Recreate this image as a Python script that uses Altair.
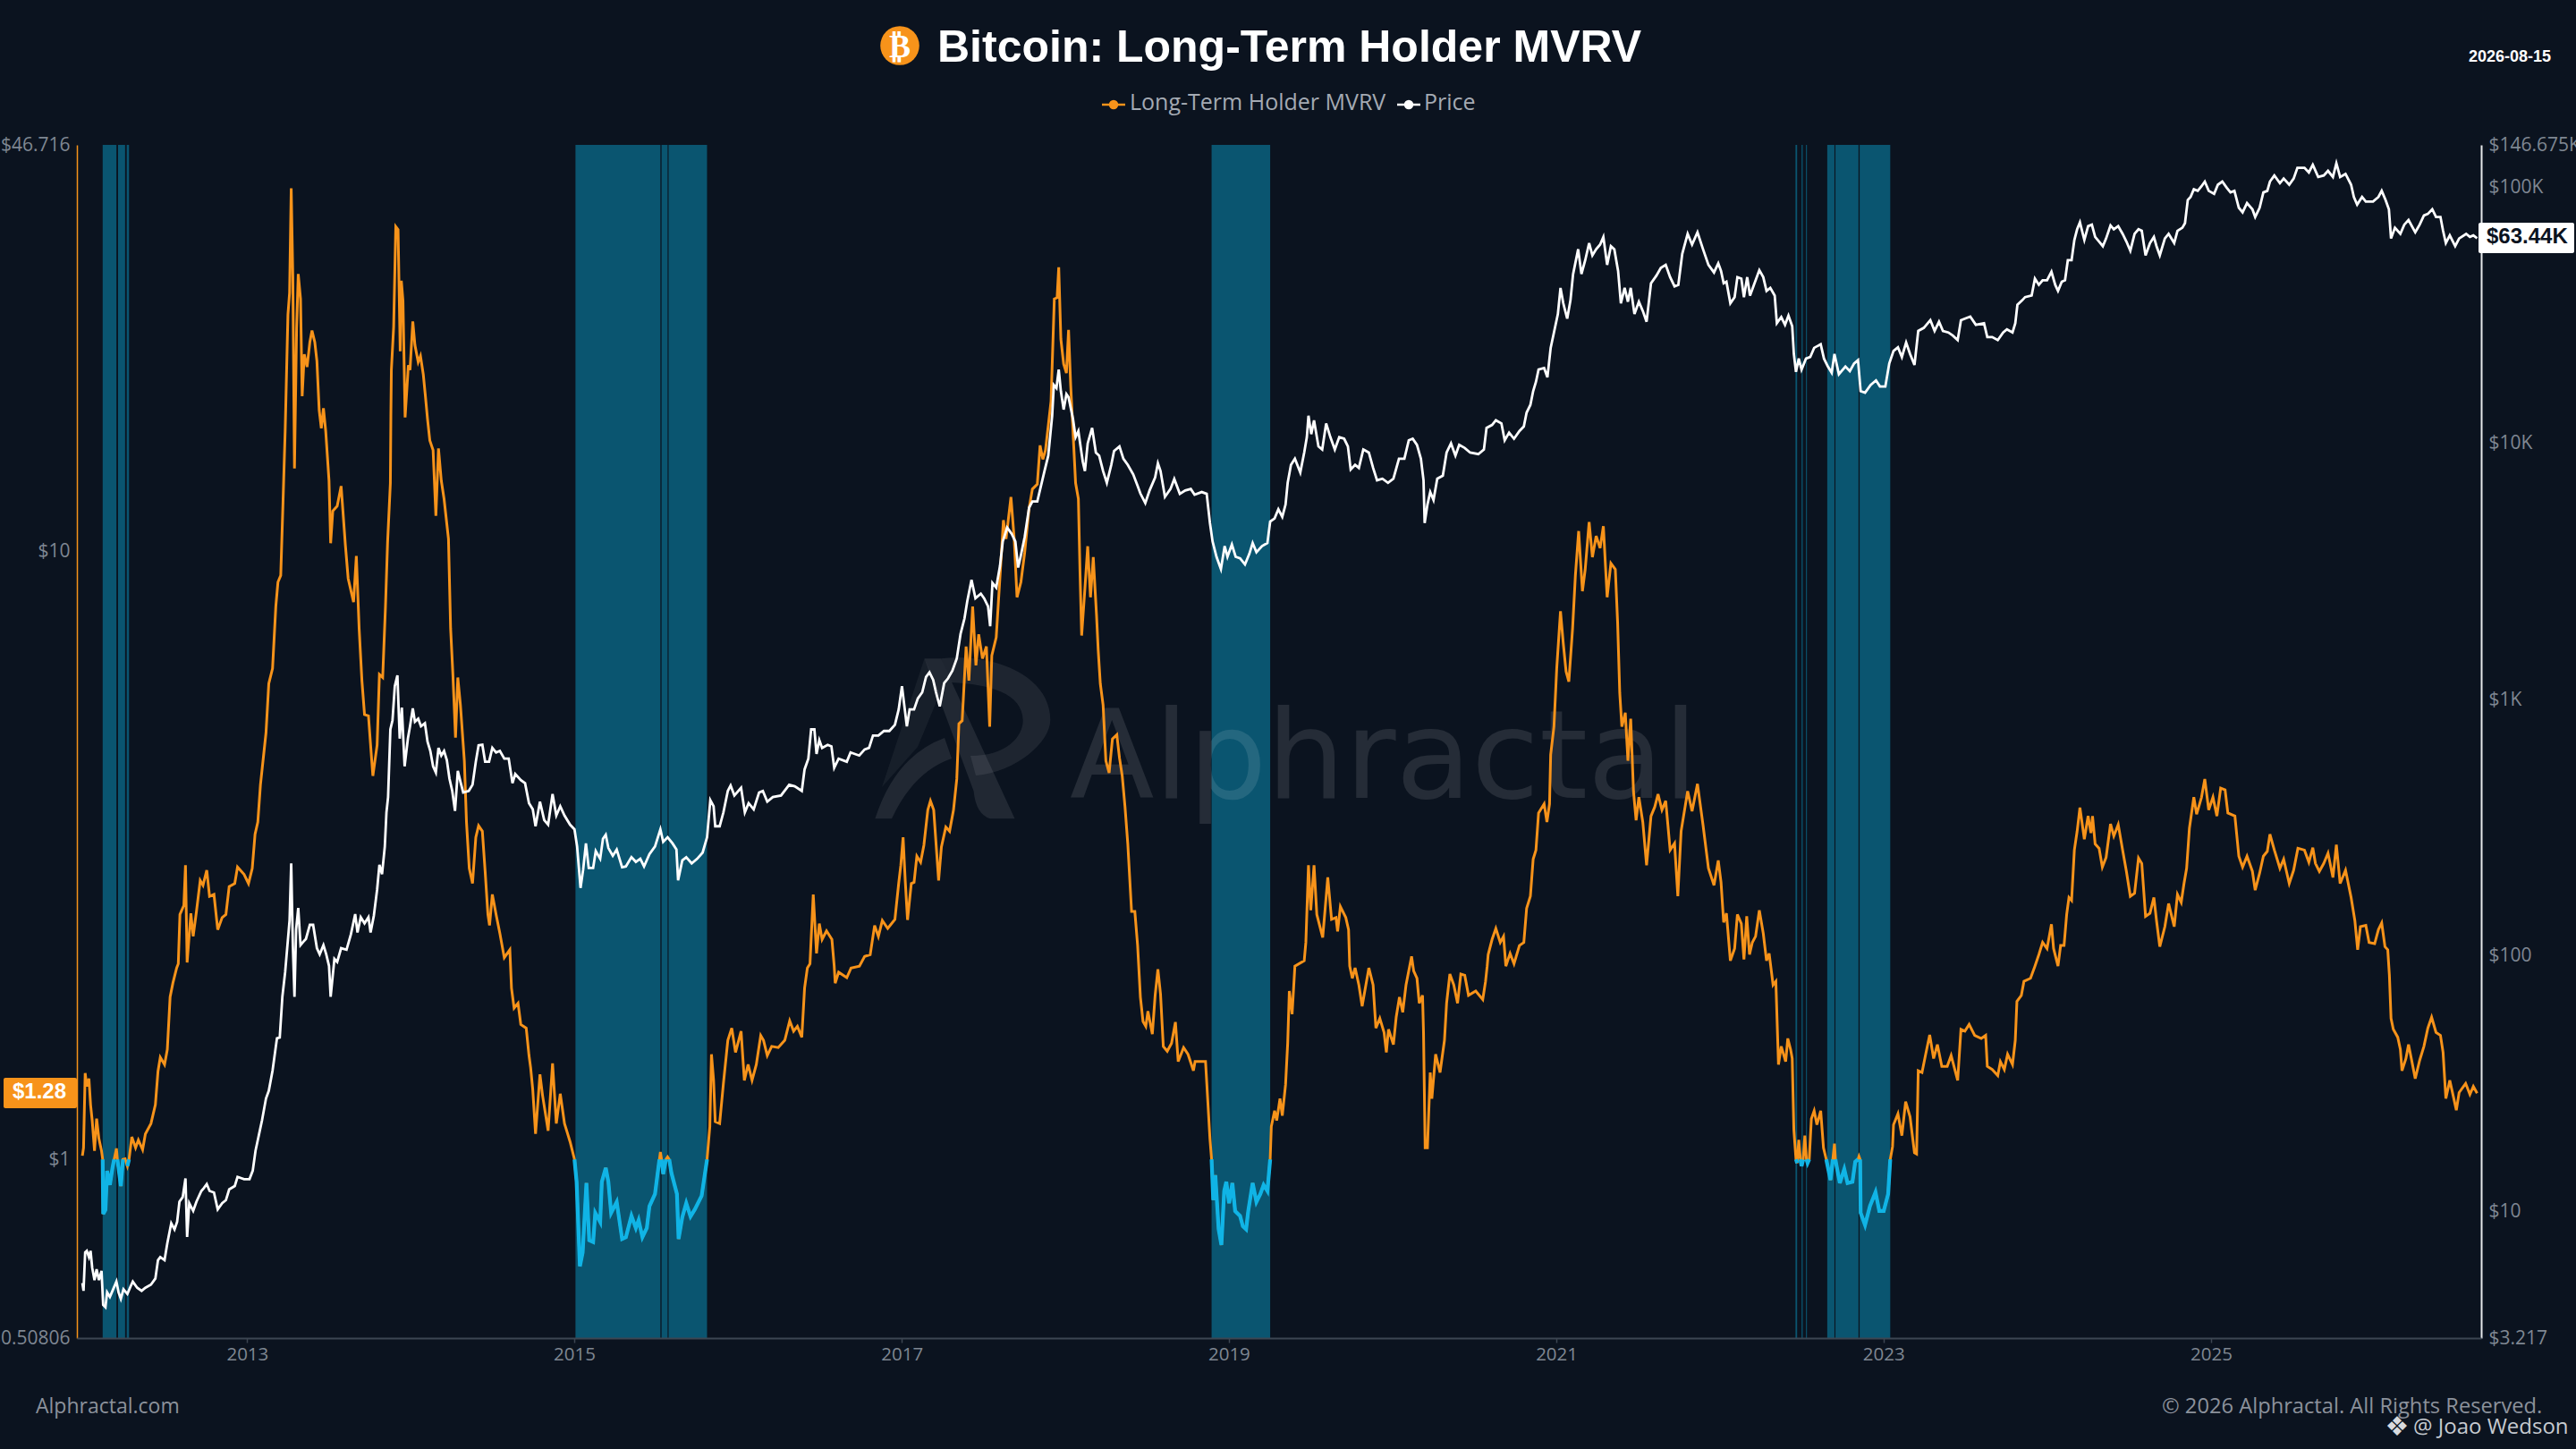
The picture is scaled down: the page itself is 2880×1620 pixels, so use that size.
import altair as alt
import pandas as pd
import numpy as np

# ---- values: (decimal year, log10 of the value on its log axis) ----
mvrv_readings = [
(2011.993,.006),(2012.000,.019),(2012.010,.142),(2012.020,.120),(2012.033,.133),(2012.043,.090),(2012.053,.064),(2012.067,.014),(2012.080,.067),(2012.094,.034),(2012.110,.014),(2012.117,0),
(2012.120,-.090),(2012.134,-.083),(2012.144,-.019),(2012.161,-.042),(2012.177,-.014),(2012.187,0),(2012.201,.018),(2012.207,0),(2012.214,-.014),(2012.228,-.044),(2012.241,0),(2012.254,.001),(2012.268,-.011),(2012.278,0),
(2012.295,.037),(2012.318,.019),(2012.335,.032),(2012.361,.016),(2012.378,.042),(2012.412,.059),(2012.439,.090),(2012.455,.145),(2012.469,.168),(2012.495,.156),(2012.512,.181),(2012.529,.267),(2012.546,.290),(2012.569,.315),
(2012.579,.322),(2012.589,.403),(2012.613,.418),(2012.623,.484),(2012.633,.324),(2012.656,.405),(2012.670,.367),(2012.690,.408),(2012.713,.459),(2012.730,.451),(2012.753,.476),(2012.770,.433),(2012.797,.436),(2012.820,.378),(2012.847,.398),(2012.870,.403),(2012.890,.449),(2012.924,.454),(2012.941,.481),(2012.981,.469),
(2013.008,.454),(2013.031,.479),(2013.048,.535),(2013.065,.555),(2013.081,.616),(2013.115,.702),(2013.132,.783),(2013.155,.808),(2013.175,.910),(2013.188,.950),(2013.205,.961),(2013.219,1.082),
(2013.232,1.198),(2013.249,1.390),(2013.259,1.426),(2013.269,1.598),(2013.279,1.451),(2013.289,1.137),(2013.302,1.368),(2013.312,1.457),(2013.326,1.416),(2013.336,1.256),(2013.349,1.325),(2013.366,1.304),(2013.383,1.345),(2013.396,1.364),(2013.413,1.345),(2013.426,1.314),(2013.440,1.233),(2013.453,1.203),(2013.466,1.236),(2013.480,1.198),(2013.500,1.117),
(2013.510,1.014),(2013.523,1.067),(2013.550,1.075),(2013.574,1.108),(2013.600,1.011),(2013.617,.956),(2013.650,.917),(2013.667,.993),(2013.684,.874),(2013.701,.788),(2013.717,.732),(2013.741,.730),(2013.768,.631),(2013.794,.682),(2013.808,.798),(2013.828,.793),(2013.845,.910),(2013.858,1.016),(2013.875,1.113),
(2013.878,1.223),(2013.881,1.299),(2013.895,1.370),(2013.908,1.535),(2013.922,1.530),(2013.935,1.330),(2013.942,1.446),(2013.952,1.413),(2013.965,1.221),(2013.985,1.307),(2013.995,1.299),(2014.012,1.379),(2014.025,1.340),(2014.045,1.312),(2014.059,1.322),(2014.076,1.292),(2014.089,1.256),(2014.102,1.218),(2014.116,1.183),(2014.136,1.167),(2014.153,1.059),(2014.169,1.170),(2014.186,1.117),
(2014.203,1.087),(2014.230,1.021),(2014.243,.874),(2014.257,.798),(2014.273,.694),(2014.287,.793),(2014.303,.748),(2014.327,.656),(2014.340,.555),(2014.357,.479),(2014.377,.454),(2014.397,.530),(2014.414,.549),(2014.437,.540),(2014.454,.474),(2014.471,.403),(2014.481,.385),(2014.498,.436),(2014.521,.403),(2014.544,.372),(2014.571,.332),(2014.605,.345),
(2014.615,.282),(2014.631,.249),(2014.655,.257),(2014.672,.222),(2014.705,.216),(2014.722,.171),(2014.732,.151),(2014.745,.115),(2014.762,.042),(2014.789,.140),(2014.805,.105),(2014.839,.047),(2014.866,.158),(2014.889,.059),(2014.913,.108),(2014.939,.059),(2014.973,.029),(2015.000,0),
(2015.013,-.037),(2015.033,-.176),(2015.050,-.153),(2015.073,-.039),(2015.090,-.133),(2015.114,-.136),(2015.127,-.088),(2015.157,-.103),(2015.167,-.037),(2015.191,-.014),(2015.207,-.037),(2015.224,-.088),(2015.258,-.070),(2015.291,-.131),(2015.314,-.128),(2015.348,-.093),(2015.375,-.113),(2015.392,-.100),(2015.415,-.128),(2015.442,-.113),(2015.458,-.077),(2015.492,-.057),(2015.519,0),(2015.525,.012),(2015.532,0),(2015.542,-.024),(2015.559,0),(2015.569,.004),(2015.579,0),(2015.592,-.022),(2015.626,-.057),(2015.636,-.131),(2015.659,-.095),(2015.683,-.072),(2015.709,-.094),(2015.736,-.082),(2015.777,-.060),(2015.810,0),
(2015.827,.054),(2015.837,.173),(2015.850,.130),(2015.860,.062),(2015.887,.059),(2015.910,.125),(2015.937,.196),(2015.961,.216),(2015.984,.176),(2016.018,.211),(2016.038,.130),(2016.061,.156),(2016.085,.130),(2016.111,.156),(2016.138,.204),(2016.155,.196),(2016.178,.171),(2016.205,.186),(2016.245,.184),(2016.285,.196),(2016.315,.228),(2016.339,.211),(2016.362,.219),(2016.389,.201),(2016.406,.282),(2016.423,.315),
(2016.439,.322),(2016.459,.436),(2016.479,.339),(2016.496,.388),(2016.513,.362),(2016.540,.376),(2016.573,.362),(2016.587,.318),(2016.593,.290),(2016.614,.308),(2016.664,.299),(2016.690,.315),(2016.741,.318),
(2016.773,.334),(2016.807,.337),(2016.834,.385),(2016.857,.367),(2016.881,.393),(2016.914,.380),(2016.958,.395),(2016.981,.454),(2016.994,.484),(2017.008,.530),(2017.021,.459),(2017.035,.394),(2017.058,.454),(2017.075,.456),(2017.092,.499),(2017.115,.489),(2017.135,.517),(2017.159,.575),(2017.175,.590),(2017.195,.575),(2017.225,.459),(2017.242,.514),(2017.269,.547),(2017.292,.540),(2017.316,.575),(2017.336,.626),(2017.349,.717),(2017.369,.722),(2017.393,.844),(2017.410,.788),(2017.433,.910),(2017.453,.813),(2017.470,.864),(2017.493,.824),(2017.517,.844),(2017.537,.712),(2017.550,.829),(2017.577,.859),(2017.604,.976),(2017.621,1.052),(2017.637,1.021),(2017.667,1.090),(2017.687,1.021),(2017.704,.925),(2017.728,.950),(2017.751,.999),(2017.778,1.072),(2017.798,1.103),
(2017.828,1.111),(2017.845,1.175),(2017.862,1.152),(2017.878,1.167),(2017.912,1.248),(2017.932,1.416),(2017.949,1.418),(2017.959,1.468),(2017.972,1.350),(2017.989,1.309),(2018.006,1.294),(2018.019,1.365),(2018.032,1.274),(2018.062,1.113),
(2018.079,1.087),(2018.089,.966),(2018.099,.862),(2018.119,.940),(2018.136,1.009),(2018.153,.925),(2018.170,.991),(2018.190,.895),(2018.200,.839),(2018.213,.783),(2018.230,.748),(2018.247,.656),(2018.267,.636),(2018.287,.692),(2018.314,.699),(2018.330,.661),(2018.347,.631),(2018.364,.580),(2018.381,.519),(2018.404,.408),(2018.424,.408),(2018.441,.352),
(2018.458,.267),(2018.474,.227),(2018.491,.219),(2018.504,.244),(2018.531,.206),(2018.548,.270),(2018.565,.313),(2018.581,.272),(2018.598,.186),(2018.622,.178),(2018.648,.191),(2018.672,.226),(2018.689,.161),(2018.722,.184),(2018.749,.173),(2018.782,.146),(2018.792,.161),(2018.833,.161),(2018.856,.161),(2018.869,.100),(2018.883,.034),(2018.893,0),
(2018.903,-.067),(2018.916,-.026),(2018.936,-.115),(2018.953,-.141),(2018.970,-.052),(2018.983,-.037),(2019.000,-.072),(2019.020,-.039),(2019.037,-.085),(2019.067,-.093),(2019.084,-.110),(2019.104,-.115),(2019.117,-.085),(2019.144,-.039),(2019.167,-.070),(2019.191,-.057),(2019.211,-.042),(2019.234,-.052),(2019.251,0),
(2019.258,.054),(2019.278,.080),(2019.291,.064),(2019.311,.100),(2019.325,.072),(2019.345,.123),(2019.358,.191),(2019.368,.277),(2019.385,.239),(2019.402,.318),
(2019.459,.327),(2019.469,.357),(2019.485,.484),(2019.499,.410),(2019.519,.484),(2019.536,.403),(2019.572,.365),(2019.603,.464),(2019.626,.395),(2019.653,.398),(2019.663,.375),(2019.680,.416),(2019.713,.398),(2019.730,.378),(2019.737,.318),
(2019.753,.298),(2019.770,.315),(2019.793,.287),(2019.813,.252),(2019.854,.315),(2019.880,.287),(2019.897,.216),(2019.921,.232),(2019.947,.209),(2019.961,.176),(2019.974,.214),(2020.004,.189),(2020.021,.234),(2020.041,.267),(2020.061,.242),(2020.081,.287),(2020.115,.334),(2020.128,.310),(2020.148,.298),(2020.162,.257),(2020.182,.270),(2020.188,.209),(2020.198,.019),(2020.212,.019),(2020.229,.143),(2020.239,.100),(2020.262,.173),(2020.289,.143),(2020.316,.196),(2020.329,.257),(2020.349,.305),(2020.373,.287),(2020.396,.257),(2020.416,.305),(2020.440,.303),(2020.463,.270),(2020.507,.277),(2020.550,.263),(2020.567,.293),(2020.577,.318),
(2020.583,.337),(2020.607,.362),(2020.630,.380),(2020.657,.357),(2020.677,.367),(2020.691,.318),(2020.717,.339),(2020.741,.322),(2020.774,.352),(2020.801,.357),(2020.818,.413),(2020.841,.433),(2020.858,.494),(2020.875,.509),(2020.891,.570),(2020.925,.585),(2020.942,.555),(2020.958,.585),(2020.965,.666),(2020.985,.712),(2021.002,.808),(2021.025,.902),(2021.042,.849),(2021.059,.803),(2021.076,.786),(2021.099,.874),(2021.116,.961),(2021.136,1.034),(2021.159,.935),(2021.176,.971),(2021.200,1.049),(2021.220,.991),(2021.243,1.026),(2021.267,1.006),(2021.287,1.042),(2021.310,.925),(2021.333,.981),(2021.360,.971),(2021.374,.884),(2021.387,.768),(2021.400,.712),(2021.421,.735),(2021.437,.656),(2021.454,.725),(2021.471,.606),(2021.487,.558),(2021.504,.596),(2021.528,.555),(2021.551,.484),(2021.578,.565),(2021.601,.580),(2021.621,.601),(2021.645,.575),(2021.668,.590),(2021.695,.509),(2021.722,.520),(2021.742,.433),(2021.762,.540),(2021.802,.606),(2021.829,.573),(2021.862,.618),(2021.896,.550),(2021.929,.479),(2021.963,.451),
(2021.989,.492),(2022.006,.456),(2022.022,.390),(2022.039,.405),(2022.063,.327),(2022.089,.347),(2022.106,.403),(2022.130,.388),(2022.146,.329),(2022.163,.400),(2022.180,.337),(2022.197,.357),(2022.217,.367),(2022.240,.410),(2022.264,.372),(2022.284,.327),(2022.300,.339),
(2022.324,.287),(2022.341,.293),(2022.357,.156),(2022.374,.186),(2022.401,.161),(2022.414,.199),(2022.431,.181),(2022.441,.166),(2022.451,.049),(2022.464,0),(2022.471,-.006),(2022.481,.032),(2022.491,0),(2022.498,-.011),(2022.508,0),(2022.518,.039),(2022.528,0),(2022.535,-.006),(2022.545,0),(2022.558,.067),(2022.575,.080),(2022.592,.057),(2022.615,.080),(2022.632,.019),(2022.649,0),(2022.675,-.034),(2022.689,0),(2022.699,.026),(2022.705,0),(2022.712,-.011),(2022.732,-.039),(2022.759,-.016),(2022.779,-.039),(2022.809,-.037),(2022.826,-.004),(2022.843,0),(2022.849,.005),(2022.856,0),(2022.859,-.088),(2022.886,-.108),(2022.916,-.077),(2022.950,-.054),(2022.973,-.085),(2023.000,-.085),(2023.027,-.057),(2023.040,0),
(2023.054,.021),(2023.060,.057),(2023.087,.075),(2023.111,.039),(2023.134,.095),(2023.161,.070),(2023.188,.011),(2023.201,.009),(2023.211,.146),(2023.234,.143),(2023.255,.171),(2023.281,.205),(2023.305,.166),(2023.328,.189),(2023.355,.153),(2023.388,.153),(2023.412,.171),(2023.452,.130),(2023.472,.214),(2023.496,.211),(2023.522,.222),(2023.556,.204),(2023.596,.199),(2023.623,.204),(2023.633,.153),(2023.663,.148),(2023.697,.138),(2023.713,.161),(2023.737,.148),(2023.757,.173),(2023.787,.156),(2023.804,.196),(2023.814,.260),(2023.841,.270),(2023.857,.293),(2023.897,.298),(2023.924,.318),
(2023.948,.337),(2023.971,.357),(2023.998,.347),(2024.025,.387),(2024.038,.347),(2024.065,.318),(2024.081,.352),(2024.102,.352),(2024.118,.403),(2024.132,.431),(2024.148,.426),(2024.165,.509),(2024.182,.540),(2024.199,.579),(2024.226,.527),(2024.249,.565),(2024.266,.537),(2024.276,.565),(2024.292,.519),(2024.316,.512),(2024.336,.481),(2024.359,.497),(2024.386,.552),(2024.406,.532),(2024.433,.551),(2024.460,.509),(2024.483,.474),(2024.507,.433),(2024.533,.438),(2024.557,.496),(2024.577,.487),(2024.600,.400),(2024.627,.405),(2024.651,.431),(2024.667,.393),(2024.687,.350),(2024.718,.383),(2024.741,.421),(2024.775,.383),(2024.795,.436),(2024.818,.423),(2024.835,.454),(2024.851,.479),(2024.868,.545),(2024.895,.596),(2024.912,.568),(2024.942,.596),(2024.962,.626),(2024.986,.575),(2025.012,.596),(2025.036,.565),(2025.059,.611),(2025.086,.608),(2025.103,.570),(2025.146,.565),(2025.170,.499),(2025.193,.481),(2025.220,.499),(2025.253,.474),(2025.270,.443),(2025.297,.471),(2025.320,.499),(2025.344,.507),(2025.360,.535),(2025.387,.509),(2025.421,.479),(2025.444,.494),(2025.478,.454),(2025.505,.476),(2025.531,.512),(2025.571,.509),(2025.598,.489),(2025.622,.513),(2025.638,.487),(2025.662,.474),(2025.689,.487),(2025.715,.504),(2025.745,.464),(2025.766,.518),(2025.789,.454),(2025.822,.476),(2025.856,.431),(2025.879,.393),(2025.896,.345),(2025.913,.383),(2025.946,.385),(2025.966,.357),(2026.000,.355),(2026.023,.378),(2026.043,.389),(2026.063,.350),(2026.080,.345),
(2026.090,.303),(2026.100,.232),(2026.114,.214),(2026.141,.201),(2026.157,.181),(2026.167,.146),(2026.191,.166),(2026.207,.189),(2026.224,.166),(2026.248,.133),(2026.275,.163),(2026.301,.186),(2026.325,.216),(2026.348,.234),(2026.375,.209),(2026.402,.204),(2026.418,.176),(2026.435,.100),(2026.459,.130),(2026.482,.102),(2026.499,.081),(2026.516,.110),(2026.556,.125),(2026.582,.107),(2026.603,.120),(2026.626,.109),
]

price_readings = [
(2011.993,.722),(2012.000,.692),(2012.010,.842),(2012.020,.848),(2012.033,.824),(2012.043,.848),(2012.053,.782),(2012.067,.734),(2012.080,.776),(2012.094,.734),(2012.110,.770),(2012.120,.637),(2012.134,.628),(2012.144,.686),(2012.161,.668),(2012.177,.692),(2012.201,.728),(2012.214,.686),(2012.228,.661),(2012.244,.698),(2012.268,.680),(2012.288,.710),(2012.301,.728),(2012.328,.704),(2012.355,.692),(2012.378,.704),(2012.412,.716),(2012.439,.740),(2012.455,.812),(2012.469,.824),(2012.495,.812),(2012.512,.878),(2012.536,.956),(2012.556,.932),(2012.572,.962),(2012.586,1.040),(2012.606,1.058),(2012.623,1.131),(2012.633,.902),(2012.646,1.034),(2012.670,1.004),(2012.690,1.040),(2012.720,1.082),(2012.736,1.094),(2012.753,1.109),(2012.770,1.082),(2012.797,1.076),(2012.820,1.010),(2012.847,1.034),(2012.870,1.046),(2012.890,1.088),(2012.924,1.101),(2012.941,1.137),(2012.981,1.128),
(2013.014,1.128),(2013.034,1.161),(2013.051,1.239),(2013.071,1.299),(2013.091,1.359),(2013.115,1.443),(2013.132,1.473),(2013.155,1.552),(2013.182,1.678),(2013.199,1.681),(2013.215,1.840),(2013.232,1.936),
(2013.259,2.139),(2013.269,2.361),(2013.279,2.042),(2013.289,1.840),(2013.299,2.103),(2013.312,2.187),(2013.326,2.042),(2013.342,2.054),(2013.359,2.066),(2013.383,2.121),(2013.403,2.121),(2013.426,2.030),(2013.443,2.006),(2013.466,2.042),(2013.483,2.006),(2013.500,1.961),(2013.510,1.840),(2013.533,1.988),(2013.550,1.976),(2013.574,2.030),(2013.607,2.024),(2013.634,2.085),(2013.660,2.163),(2013.674,2.091),(2013.694,2.151),(2013.717,2.127),(2013.741,2.151),(2013.754,2.091),(2013.774,2.157),(2013.794,2.259),(2013.808,2.355),(2013.824,2.319),(2013.841,2.427),(2013.851,2.560),(2013.861,2.620),(2013.875,2.884),(2013.888,2.920),(2013.902,3.053),(2013.918,3.095),(2013.932,2.848),(2013.945,2.969),(2013.962,2.740),(2013.982,2.848),(2013.995,2.896),
(2014.012,2.966),(2014.025,2.914),(2014.045,2.926),(2014.062,2.896),(2014.086,2.908),(2014.102,2.836),(2014.119,2.800),(2014.136,2.740),(2014.153,2.716),(2014.169,2.812),(2014.186,2.782),(2014.203,2.800),(2014.220,2.764),(2014.236,2.692),(2014.253,2.644),(2014.270,2.566),(2014.287,2.722),(2014.303,2.680),(2014.320,2.638),(2014.354,2.644),(2014.377,2.668),(2014.397,2.758),(2014.414,2.822),(2014.437,2.824),(2014.454,2.758),(2014.478,2.758),(2014.498,2.812),(2014.521,2.794),(2014.544,2.800),(2014.571,2.770),(2014.598,2.770),(2014.621,2.674),(2014.638,2.710),(2014.672,2.686),(2014.698,2.674),(2014.722,2.596),(2014.745,2.572),(2014.762,2.506),(2014.789,2.602),(2014.815,2.530),(2014.839,2.512),(2014.866,2.632),(2014.889,2.548),(2014.913,2.584),(2014.939,2.548),(2014.973,2.512),
(2015.000,2.494),(2015.016,2.427),(2015.037,2.265),(2015.053,2.337),(2015.070,2.439),(2015.087,2.343),(2015.114,2.343),(2015.130,2.409),(2015.157,2.379),(2015.174,2.457),(2015.191,2.473),(2015.207,2.421),(2015.234,2.391),(2015.258,2.415),(2015.291,2.346),(2015.314,2.349),(2015.348,2.385),(2015.375,2.367),(2015.402,2.379),(2015.425,2.349),(2015.458,2.397),(2015.492,2.427),(2015.525,2.494),(2015.542,2.445),(2015.569,2.463),(2015.599,2.439),(2015.623,2.415),(2015.633,2.295),(2015.659,2.373),(2015.683,2.385),(2015.716,2.361),(2015.750,2.379),(2015.783,2.403),(2015.810,2.463),(2015.830,2.608),(2015.850,2.584),(2015.860,2.506),(2015.887,2.506),(2015.910,2.560),(2015.937,2.644),(2015.954,2.665),(2015.977,2.626),
(2016.018,2.656),(2016.041,2.560),(2016.064,2.596),(2016.095,2.572),(2016.128,2.638),(2016.151,2.644),(2016.178,2.602),(2016.212,2.620),(2016.262,2.626),(2016.312,2.668),(2016.346,2.662),(2016.389,2.644),(2016.406,2.728),(2016.429,2.770),(2016.446,2.884),(2016.466,2.884),(2016.479,2.788),(2016.496,2.842),(2016.513,2.812),(2016.547,2.824),(2016.570,2.818),(2016.587,2.734),(2016.614,2.770),(2016.664,2.758),(2016.687,2.794),(2016.740,2.782),(2016.773,2.806),(2016.800,2.812),(2016.824,2.860),(2016.857,2.860),(2016.891,2.878),(2016.924,2.878),(2016.958,2.902),(2016.981,2.962),
(2017.001,3.053),(2017.031,2.896),(2017.048,2.962),(2017.075,2.962),(2017.098,3.005),(2017.125,3.029),(2017.148,3.089),(2017.169,3.107),(2017.192,3.077),(2017.209,3.029),(2017.232,2.974),(2017.259,3.065),(2017.282,3.083),(2017.309,3.113),(2017.336,3.161),(2017.359,3.257),(2017.383,3.317),(2017.400,3.384),(2017.426,3.468),(2017.450,3.396),(2017.483,3.414),(2017.503,3.396),(2017.527,3.365),(2017.540,3.287),(2017.554,3.456),(2017.577,3.438),(2017.600,3.522),(2017.617,3.618),(2017.644,3.672),(2017.671,3.648),(2017.694,3.618),(2017.711,3.516),(2017.728,3.564),(2017.751,3.636),(2017.778,3.750),(2017.798,3.774),(2017.828,3.774),(2017.872,3.893),(2017.895,3.953),(2017.919,4.109),(2017.929,4.229),(2017.945,4.217),(2017.959,4.289),(2017.972,4.205),(2017.989,4.133),
(2018.006,4.193),(2018.019,4.181),(2018.046,4.097),(2018.062,4.025),(2018.079,4.049),(2018.106,3.929),(2018.119,3.893),(2018.136,4.001),(2018.163,4.061),(2018.186,3.965),(2018.206,3.953),(2018.230,3.893),(2018.253,3.847),(2018.280,3.917),(2018.297,3.971),(2018.330,3.989),(2018.354,3.941),(2018.381,3.917),(2018.414,3.880),(2018.441,3.835),(2018.458,3.805),(2018.488,3.768),(2018.514,3.817),(2018.548,3.868),(2018.565,3.923),(2018.581,3.893),(2018.608,3.792),(2018.642,3.823),(2018.665,3.862),(2018.699,3.804),(2018.732,3.817),(2018.766,3.823),(2018.789,3.801),(2018.833,3.811),(2018.863,3.804),(2018.883,3.690),(2018.899,3.618),(2018.923,3.558),(2018.950,3.510),(2018.973,3.600),(2018.990,3.558),
(2019.017,3.606),(2019.040,3.558),(2019.067,3.552),(2019.097,3.528),(2019.124,3.570),(2019.144,3.612),(2019.167,3.576),(2019.201,3.600),(2019.234,3.612),(2019.251,3.696),(2019.278,3.708),(2019.301,3.744),(2019.325,3.714),(2019.345,3.762),(2019.358,3.847),(2019.378,3.917),(2019.402,3.941),(2019.435,3.887),(2019.459,3.965),(2019.475,4.025),(2019.485,4.109),(2019.502,4.037),(2019.519,4.091),(2019.546,3.989),(2019.569,3.977),(2019.593,4.079),(2019.619,4.025),(2019.646,3.977),(2019.673,4.025),(2019.703,4.019),(2019.726,3.989),(2019.743,3.899),(2019.770,3.917),(2019.793,3.905),(2019.820,3.977),(2019.854,3.965),(2019.880,3.905),(2019.904,3.857),(2019.937,3.863),(2019.971,3.847),
(2020.004,3.863),(2020.038,3.941),(2020.071,3.941),(2020.098,4.013),(2020.122,4.019),(2020.148,3.995),(2020.172,3.941),(2020.188,3.857),(2020.195,3.690),(2020.212,3.762),(2020.229,3.811),(2020.249,3.780),(2020.272,3.863),(2020.306,3.875),(2020.329,3.965),(2020.356,4.001),(2020.383,3.953),(2020.406,3.995),(2020.440,3.983),(2020.473,3.965),(2020.523,3.959),(2020.557,3.977),(2020.573,4.061),(2020.607,4.073),(2020.630,4.091),(2020.664,4.079),(2020.684,4.013),(2020.711,4.043),(2020.741,4.019),(2020.774,4.049),(2020.801,4.067),(2020.818,4.121),(2020.841,4.151),(2020.858,4.205),(2020.875,4.241),(2020.891,4.289),(2020.925,4.295),(2020.945,4.259),(2020.965,4.374),(2020.985,4.434),
(2021.009,4.506),(2021.025,4.608),(2021.042,4.548),(2021.066,4.488),(2021.086,4.560),(2021.102,4.662),(2021.133,4.759),(2021.153,4.662),(2021.176,4.716),(2021.200,4.783),(2021.220,4.735),(2021.243,4.759),(2021.267,4.777),(2021.287,4.807),(2021.310,4.698),(2021.333,4.771),(2021.354,4.759),(2021.377,4.674),(2021.394,4.548),(2021.417,4.608),(2021.437,4.554),(2021.454,4.608),(2021.477,4.506),(2021.504,4.554),(2021.528,4.518),(2021.551,4.476),(2021.578,4.626),(2021.611,4.656),(2021.638,4.686),(2021.668,4.698),(2021.695,4.650),(2021.722,4.614),(2021.745,4.620),(2021.769,4.741),(2021.802,4.819),(2021.829,4.777),(2021.862,4.825),(2021.896,4.759),(2021.929,4.698),(2021.963,4.668),(2021.989,4.704),
(2022.006,4.674),(2022.022,4.626),(2022.039,4.632),(2022.063,4.548),(2022.089,4.572),(2022.106,4.650),(2022.130,4.644),(2022.146,4.572),(2022.166,4.650),(2022.183,4.578),(2022.207,4.620),(2022.240,4.677),(2022.264,4.650),(2022.284,4.596),(2022.307,4.608),(2022.334,4.578),(2022.347,4.470),(2022.374,4.494),(2022.397,4.464),(2022.418,4.500),(2022.441,4.458),(2022.451,4.350),(2022.464,4.280),(2022.481,4.332),(2022.498,4.289),(2022.525,4.332),(2022.551,4.338),(2022.575,4.374),(2022.615,4.388),(2022.635,4.332),(2022.659,4.301),(2022.682,4.277),(2022.699,4.350),(2022.726,4.271),(2022.766,4.301),(2022.793,4.283),(2022.819,4.313),(2022.843,4.326),(2022.859,4.205),(2022.886,4.199),(2022.920,4.229),(2022.953,4.247),(2022.977,4.223),
(2023.010,4.223),(2023.034,4.313),(2023.060,4.362),(2023.087,4.376),(2023.111,4.338),(2023.137,4.395),(2023.161,4.350),(2023.188,4.307),(2023.211,4.440),(2023.245,4.452),(2023.285,4.482),(2023.311,4.440),(2023.338,4.476),(2023.362,4.440),(2023.395,4.434),(2023.422,4.422),(2023.452,4.404),(2023.472,4.482),(2023.496,4.488),(2023.529,4.496),(2023.563,4.464),(2023.613,4.470),(2023.633,4.416),(2023.663,4.416),(2023.697,4.404),(2023.730,4.434),(2023.753,4.446),(2023.787,4.434),(2023.804,4.470),(2023.817,4.542),(2023.847,4.560),(2023.864,4.572),(2023.904,4.578),(2023.924,4.644),(2023.948,4.620),(2023.971,4.638),(2023.998,4.638),
(2024.025,4.671),(2024.048,4.620),(2024.065,4.596),(2024.088,4.632),(2024.108,4.638),(2024.125,4.716),(2024.148,4.716),(2024.165,4.795),(2024.182,4.837),(2024.199,4.864),(2024.226,4.795),(2024.249,4.849),(2024.272,4.855),(2024.292,4.807),(2024.316,4.789),(2024.339,4.771),(2024.359,4.801),(2024.386,4.852),(2024.406,4.837),(2024.433,4.849),(2024.460,4.819),(2024.483,4.789),(2024.507,4.753),(2024.533,4.819),(2024.557,4.837),(2024.577,4.831),(2024.600,4.735),(2024.627,4.783),(2024.651,4.807),(2024.667,4.771),(2024.687,4.735),(2024.718,4.801),(2024.741,4.819),(2024.775,4.783),(2024.795,4.831),(2024.825,4.843),(2024.841,4.861),(2024.858,4.951),(2024.875,4.963),(2024.895,4.993),(2024.919,4.987),(2024.942,5.005),(2024.962,5.023),(2024.986,4.987),
(2025.019,4.975),(2025.042,5.011),(2025.069,5.023),(2025.096,4.999),(2025.119,4.981),(2025.143,4.987),(2025.170,4.921),(2025.193,4.903),(2025.220,4.939),(2025.253,4.915),(2025.270,4.885),(2025.297,4.921),(2025.320,4.981),(2025.344,4.987),(2025.360,5.023),(2025.387,5.047),(2025.421,5.017),(2025.444,5.035),(2025.478,5.011),(2025.505,5.035),(2025.528,5.077),(2025.571,5.077),(2025.598,5.059),(2025.622,5.089),(2025.655,5.041),(2025.689,5.047),(2025.715,5.065),(2025.745,5.041),(2025.766,5.095),(2025.789,5.041),(2025.822,5.053),(2025.856,5.011),(2025.873,4.963),(2025.893,4.933),(2025.923,4.963),(2025.946,4.945),(2025.990,4.945),
(2026.023,4.963),(2026.043,4.987),(2026.067,4.951),(2026.087,4.915),(2026.100,4.801),(2026.124,4.843),(2026.157,4.819),(2026.181,4.855),(2026.207,4.873),(2026.248,4.825),(2026.275,4.855),(2026.301,4.891),(2026.325,4.897),(2026.352,4.915),(2026.375,4.885),(2026.402,4.885),(2026.418,4.831),(2026.435,4.783),(2026.459,4.813),(2026.492,4.771),(2026.516,4.801),(2026.559,4.819),(2026.582,4.807),(2026.603,4.813),(2026.626,4.802),
]

band_start = [2012.117,2012.211,2012.264,2015.006,2015.532,2015.575,2018.893,2022.461,2022.498,2022.525,2022.655,2022.705,2022.853]
band_end   = [2012.201,2012.254,2012.278,2015.525,2015.569,2015.810,2019.251,2022.471,2022.505,2022.531,2022.699,2022.846,2023.040]

left_ticks  = [0.50806, 1, 10, 46.716]
right_ticks = [3.217, 10, 100, 1000, 10000, 100000, 146675]
year_ticks  = [2013, 2015, 2017, 2019, 2021, 2023, 2025]

# ---- colours ----
BG, ORANGE, BLUE, BAND, GREY = "#0b131f", "#f7931a", "#10b4e6", "#0a5570", "#7f8792"

def to_dates(years):
    return pd.Timestamp("2013-01-01") + pd.to_timedelta((np.asarray(years, dtype=float) - 2013) * 365.25, unit="D")

my, ml = zip(*mvrv_readings)
py, pl = zip(*price_readings)
mvrv = pd.DataFrame({"date": to_dates(my), "mvrv": 10 ** np.array(ml, dtype=float)})
mvrv["below"] = mvrv["mvrv"].where(mvrv["mvrv"] <= 1.0)
price = pd.DataFrame({"date": to_dates(py), "price": 10 ** np.array(pl, dtype=float)})
bands = pd.DataFrame({"start": to_dates(band_start), "end": to_dates(band_end)})

# ---- geometry of the frame (picture pixels; page margin is removed so the svg fills the window) ----
OX, OY, W, H = 86, 162, 2688, 1334
def X(px): return alt.value(px - OX)
def Y(px): return alt.value(px - OY)

x_scale = alt.Scale(domain=[alt.DateTime(year=2011, month=12, date=18), alt.DateTime(year=2026, month=8, date=27)])
x_axis = alt.Axis(title=None, grid=False, format="%Y", values=[alt.DateTime(year=y, month=1, date=1) for y in year_ticks],
                  domainColor="#3c4652", domainWidth=2, tickColor="#3c4652", tickSize=5, tickWidth=1.5, zindex=1,
                  labelColor=GREY, labelFont="Open Sans", labelFontSize=20.5, labelPadding=3, labelOverlap=False, labelFlush=False)
x_enc = alt.X("date:T", scale=x_scale, axis=x_axis)

left_scale = alt.Scale(type="log", domain=[0.50806, 46.716], nice=False)
right_scale = alt.Scale(type="log", domain=[3.217, 146675], nice=False)
left_axis = alt.Axis(orient="left", values=left_ticks, grid=False, ticks=False, domainColor=ORANGE, domainWidth=1.5,
                     labelColor=GREY, labelFont="Open Sans", labelFontSize=21, labelPadding=8, labelOverlap=False,
                     labelBound=False, labelFlush=False, labelExpr="'$' + datum.value")
right_axis = alt.Axis(orient="right", values=right_ticks, grid=False, ticks=False, domainColor="#e6e8ea", domainWidth=2,
                      labelColor=GREY, labelFont="Open Sans", labelFontSize=21, labelPadding=8, labelOverlap=False,
                      labelBound=False, labelFlush=False,
                      labelExpr="datum.value >= 1000 ? '$' + (datum.value / 1000) + 'K' : '$' + datum.value")

band_layer = alt.Chart(bands).mark_rect(color=BAND).encode(x=alt.X("start:T", scale=x_scale, axis=x_axis), x2="end:T")

ONE = alt.Data(values=[{"k": 1}])
def label(text, x, y, size, color, font="Open Sans", weight="normal", align="left", opacity=1.0):
    return alt.Chart(ONE).mark_text(text=text, fontSize=size, color=color, font=font, fontWeight=weight,
                                    align=align, baseline="middle", opacity=opacity, clip=False).encode(x=X(x), y=Y(y))

# watermark logo (soft pieces) and word
LOGO_LEG = "M-.425 -.887 L-.241 -.887 L.585 .903 L.31 .903 Q.15 .85 .126 .594 Z"
LOGO_SWOOSH = "M-.976 .903 L-.79 .903 Q-.55 .38 -.12 .23 L-.2 0 Q-.75 .2 -.976 .903 Z"
LOGO_BOWL = "M-.241 -.887 C.35 -.95 .98 -.7 .983 -.2 C.98 .05 .6 .38 .15 .42 L.09 .2 C.5 .2 .68 -.02 .677 -.2 C.67 -.5 .3 -.6 -.12 -.62 Z"
LOGO_FADE = "M-.425 -.887 L-.25 -.5 L-.5 .1 L-.9 .55 Z"
logo = [alt.Chart(ONE).mark_point(shape=s, size=40000, filled=True, color="white", opacity=o, clip=False).encode(x=X(1076), y=Y(825))
        for s, o in [(LOGO_LEG, .09), (LOGO_SWOOSH, .09), (LOGO_BOWL, .08), (LOGO_FADE, .05)]]
word = label("Alphractal", 1196, 851, 138, "white", font="DejaVu Sans", opacity=.105)

orange_line = alt.Chart(mvrv).mark_line(color=ORANGE, strokeWidth=3, interpolate="linear").encode(
    x=x_enc, y=alt.Y("mvrv:Q", title=None, scale=left_scale, axis=left_axis))
blue_line = alt.Chart(mvrv).mark_line(color=BLUE, strokeWidth=4.2, interpolate="linear").encode(
    x=x_enc, y=alt.Y("below:Q", title=None, scale=left_scale, axis=left_axis))
left_group = alt.layer(band_layer, *logo, word, orange_line, blue_line)

price_line = alt.Chart(price).mark_line(color="white", strokeWidth=2.8, interpolate="linear").encode(
    x=x_enc, y=alt.Y("price:Q", title=None, scale=right_scale, axis=right_axis))

def box(x0, x1, y0, y1, color):
    return alt.Chart(ONE).mark_rect(color=color, cornerRadius=2, clip=False).encode(x=X(x0), x2=X(x1), y=Y(y0), y2=Y(y1))
def dash(x0, x1, y, color):
    return alt.Chart(ONE).mark_rule(color=color, strokeWidth=2.5, clip=False).encode(x=X(x0), x2=X(x1), y=Y(y))
def dot(x, y, color, size):
    return alt.Chart(ONE).mark_point(shape="circle", filled=True, color=color, size=size, opacity=1, clip=False).encode(x=X(x), y=Y(y))

overlay = alt.layer(
    dot(1006, 51, ORANGE, 1900),
    label("₿", 1006, 53, 36, "white", font="DejaVu Sans", weight="bold", align="center"),
    label("Bitcoin: Long-Term Holder MVRV", 1048, 54, 50, "white", font="Liberation Sans", weight="bold"),
    label("2026-08-15", 2760, 64, 18, "white", font="Liberation Sans", weight="bold"),
    dash(1232, 1258, 117, ORANGE), dot(1245, 117, ORANGE, 110),
    label("Long-Term Holder MVRV", 1263, 115, 25, "#a4aab3"),
    dash(1562, 1588, 117, "white"), dot(1575, 117, "white", 110),
    label("Price", 1592, 115, 25, "#a4aab3"),
    box(2771, 2878, 249, 283, "white"),
    label("$63.44K", 2780, 265, 24, "#0b131f", font="Liberation Sans", weight="bold"),
    box(4, 86, 1205, 1239, ORANGE),
    label("$1.28", 14, 1221, 24, "white", font="Liberation Sans", weight="bold"),
    label("Alphractal.com", 40, 1573, 23, "#8b919b"),
    label("© 2026 Alphractal. All Rights Reserved.", 2417, 1573, 23.7, "#8b919b"),
    label("❖", 2680, 1596, 30, "#d8dade", font="DejaVu Sans", align="center"),
    label("@ Joao Wedson", 2698, 1596, 24, "#c6cad0"),
)

chart = alt.layer(left_group, price_line, overlay).resolve_scale(y="independent").properties(
    width=W, height=H,
    padding={"left": OX, "top": OY, "right": 2880 - OX - W, "bottom": 1620 - OY - H},
    autosize=alt.AutoSizeParams(type="none"),
    background=BG,
).configure_view(stroke=None)

chart.save("out.html", embed_options={"renderer": "svg", "actions": False,
                                      "defaultStyle": "html,body{margin:0;padding:0;background:%s;overflow:hidden}" % BG})
